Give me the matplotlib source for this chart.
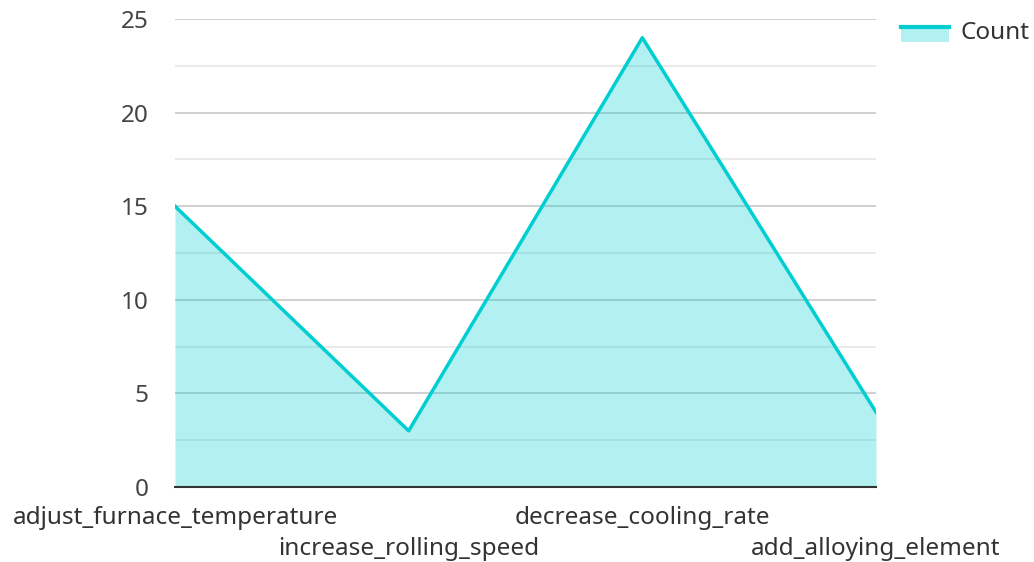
import matplotlib.pyplot as plt
import matplotlib.transforms as mtransforms
from matplotlib.ticker import MultipleLocator
from matplotlib.patches import Rectangle
from matplotlib.lines import Line2D
from matplotlib.legend_handler import HandlerBase

plt.rcParams['font.family'] = ['Noto Sans', 'DejaVu Sans']

categories = ['adjust_furnace_temperature', 'increase_rolling_speed',
              'decrease_cooling_rate', 'add_alloying_element']
counts = [15, 3, 24, 4]

line_color = '#00CED1'
fill_alpha = 0.3


class AreaHandler(HandlerBase):
    # filled box with the line along its top edge
    def create_artists(self, legend, orig, xd, yd, width, height, fontsize, trans):
        top = yd + height * 0.85
        rect = Rectangle((xd, yd - height * 0.15), width, height, facecolor=line_color,
                         alpha=fill_alpha, edgecolor='none', transform=trans)
        ln = Line2D([xd, xd + width], [top, top], color=line_color, linewidth=3,
                    transform=trans)
        return [rect, ln]


fig = plt.figure(figsize=(10.34, 5.62), dpi=100)
ax = fig.add_axes([175 / 1034, 1 - 487 / 562, (876 - 175) / 1034, (487 - 19) / 562])

x = list(range(len(categories)))
ax.fill_between(x, counts, 0, color=line_color, alpha=fill_alpha, linewidth=0, zorder=2)
ax.plot(x, counts, color=line_color, linewidth=2.5, zorder=3)

ax.set_xlim(0, len(categories) - 1)
ax.set_ylim(0, 25)
ax.yaxis.set_major_locator(MultipleLocator(5))
ax.yaxis.set_minor_locator(MultipleLocator(2.5))
ax.grid(which='major', axis='y', color='#c8c8c8', linewidth=1.2)
ax.grid(which='minor', axis='y', color='#e6e6e6', linewidth=1.2)
ax.set_axisbelow(True)

for s in ['top', 'right', 'left']:
    ax.spines[s].set_visible(False)
ax.spines['bottom'].set_color('#333333')
ax.spines['bottom'].set_linewidth(1.5)
ax.spines['bottom'].set_zorder(4)

ax.set_xticks(x)
ax.set_xticklabels(categories, fontsize=17.5, color='#333333')
ax.tick_params(axis='x', length=0, pad=14)
ax.tick_params(axis='y', which='both', length=0, pad=19, labelsize=17.5, labelcolor='#444444')

# stagger every other category label one row down
drop = mtransforms.ScaledTranslation(0, -31 / 100, fig.dpi_scale_trans)
for i, lbl in enumerate(ax.get_xticklabels()):
    if i % 2 == 1:
        lbl.set_transform(lbl.get_transform() + drop)

proxy = Rectangle((0, 0), 1, 1)
leg = fig.legend([proxy], ['Count'], loc='center left', bbox_to_anchor=(891 / 1034, 1 - 33 / 562),
                 frameon=False, fontsize=17.5, handlelength=2.0, handleheight=0.6,
                 handletextpad=0.45, borderaxespad=0,
                 handler_map={Rectangle: AreaHandler()})
for t in leg.get_texts():
    t.set_color('#333333')

fig.savefig('out.png', dpi=100)
